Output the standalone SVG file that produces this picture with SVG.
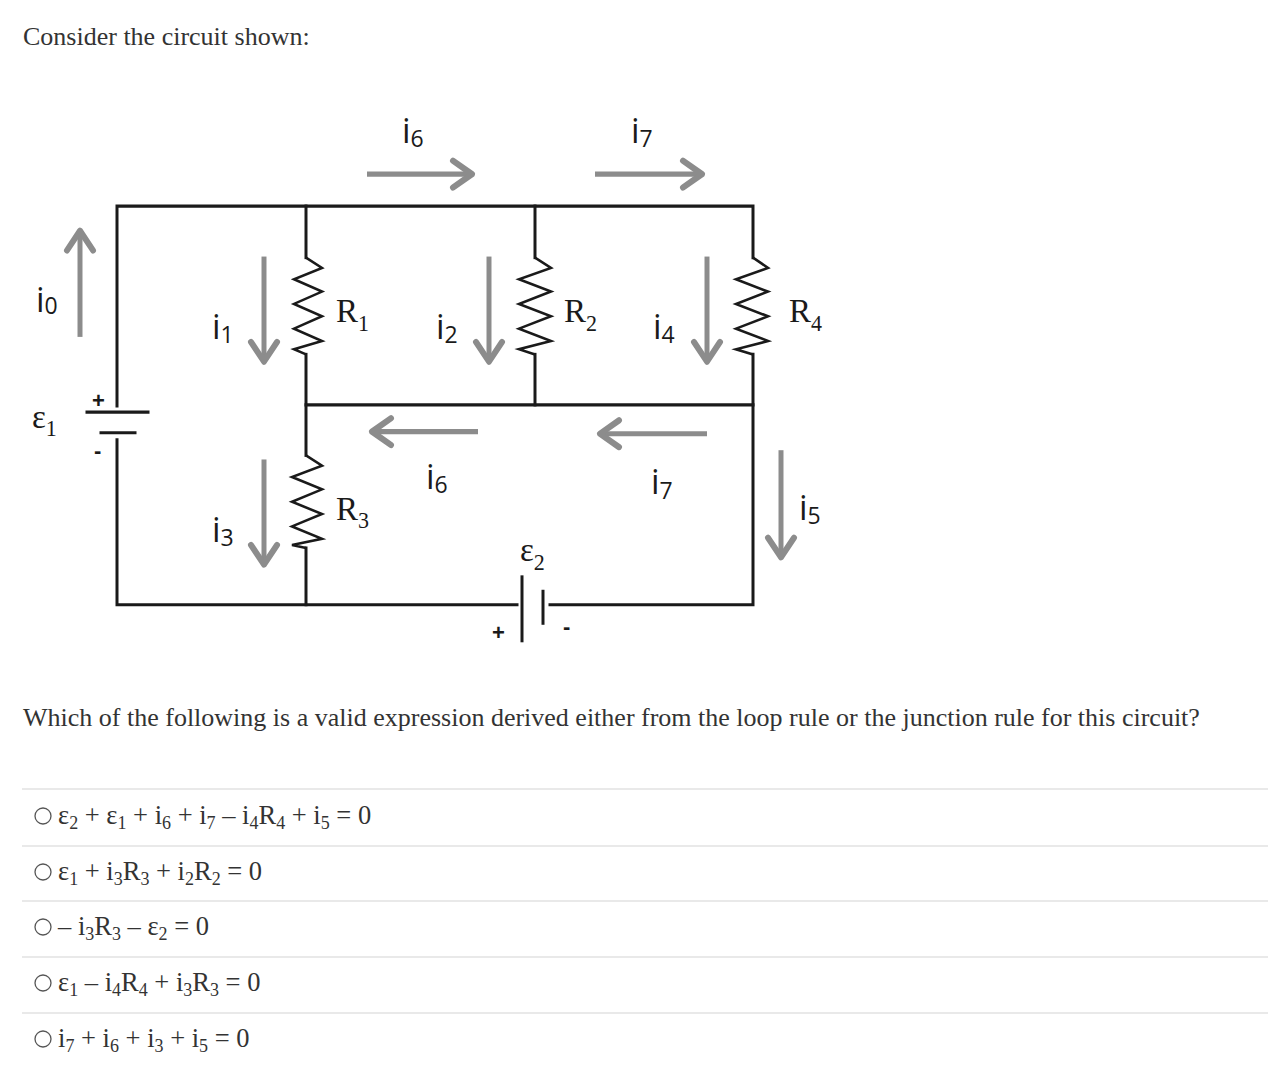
<svg xmlns="http://www.w3.org/2000/svg" width="1268" height="1082" viewBox="0 0 1268 1082">
<style>
.w{stroke:#1a1a1a;stroke-width:3;fill:none;stroke-linecap:square}
.r{stroke:#1a1a1a;stroke-width:2.5;fill:none;stroke-linejoin:miter}
.a{stroke:#8c8c8c;stroke-width:5;fill:none}
.h{stroke:#8c8c8c;stroke-width:6;fill:none;stroke-linecap:round;stroke-linejoin:round}
.lab{font-family:"Open Sans","DejaVu Sans",sans-serif;font-size:34px;fill:#1a1a1a}
.sub{font-size:23px}
.rl{font-family:"Liberation Serif",serif;font-size:33px;fill:#1a1a1a}
.rs{font-size:22px}
.pm{font-family:"Liberation Sans",sans-serif;font-size:22px;font-weight:bold;fill:#1a1a1a}
.q{font-family:"Liberation Serif",serif;font-size:26px;fill:#333}
.o{font-family:"Liberation Serif",serif;font-size:26.5px;fill:#333}
.sep{stroke:#e2e2e2;stroke-width:1.5}
.rad{fill:none;stroke:#555;stroke-width:1.3}
</style>
<rect width="1268" height="1082" fill="#fff"/>
<text class="q" x="23" y="45">Consider the circuit shown:</text>
<g transform="translate(0,100) scale(1,1.03) translate(0,-100)">
<g id="connectors">
<polyline class="w" points="117,397 117,203 753,203 753,253"/>
<polyline class="w" points="117,430 117,590 517,590"/>
<polyline class="w" points="550,590 753,590 753,347"/>
<line class="w" x1="306" y1="203" x2="306" y2="253"/>
<line class="w" x1="306" y1="347" x2="306" y2="445"/>
<line class="w" x1="306" y1="535" x2="306" y2="590"/>
<line class="w" x1="535" y1="203" x2="535" y2="253"/>
<line class="w" x1="535" y1="347" x2="535" y2="396"/>
<line class="w" x1="306" y1="396" x2="753" y2="396"/>
</g>
<g id="R1"><polyline class="r" points="306,253 322,263 294,274 322,286 294,298 322,310 294,322 322,334 294,342 306,347"/><text class="rl" x="336" y="316">R<tspan class="rs" dy="8">1</tspan></text></g>
<g id="R3"><polyline class="r" points="306,445 322,455 292,466 322,478 292,490 322,502 292,514 322,526 292,532 306,535"/><text class="rl" x="336" y="508">R<tspan class="rs" dy="8">3</tspan></text></g>
<g id="R2"><polyline class="r" points="535,253 551,263 519,274 551,286 519,298 551,310 519,322 551,334 519,342 535,347"/><text class="rl" x="564" y="316">R<tspan class="rs" dy="8">2</tspan></text></g>
<g id="R4"><polyline class="r" points="753,253 768,263 736,274 768,286 736,298 768,310 736,322 768,334 736,342 753,347"/><text class="rl" x="789" y="316">R<tspan class="rs" dy="8">4</tspan></text></g>
<g id="E1">
<line class="w" x1="87" y1="403" x2="148" y2="403"/>
<line class="w" x1="101" y1="423" x2="135" y2="423"/>
<text class="pm" x="92" y="399">+</text>
<text class="pm" x="94" y="448">-</text>
<text class="rl" x="32" y="418">ε<tspan class="rs" dy="8">1</tspan></text>
</g>
<g id="E2">
<line class="w" x1="522" y1="563" x2="522" y2="625"/>
<line class="w" x1="543" y1="577" x2="543" y2="608"/>
<text class="pm" x="492" y="624">+</text>
<text class="pm" x="563" y="618">-</text>
<text class="rl" x="520" y="548">ε<tspan class="rs" dy="8">2</tspan></text>
</g>
<g id="currents">
<line class="a" x1="80" y1="330" x2="80" y2="228"/><polyline class="h" points="67,246 80,227 93,246"/>
<text class="lab" x="36" y="306">i<tspan class="sub" dy="2">0</tspan></text>
<line class="a" x1="264" y1="252" x2="264" y2="352"/><polyline class="h" points="251,335 264,354 277,335"/>
<text class="lab" x="212" y="332">i<tspan class="sub" dy="4">1</tspan></text>
<line class="a" x1="264" y1="449" x2="264" y2="549"/><polyline class="h" points="251,532 264,551 277,532"/>
<text class="lab" x="212" y="529">i<tspan class="sub" dy="4">3</tspan></text>
<line class="a" x1="489" y1="252" x2="489" y2="352"/><polyline class="h" points="476,335 489,354 502,335"/>
<text class="lab" x="436" y="332">i<tspan class="sub" dy="4">2</tspan></text>
<line class="a" x1="707" y1="252" x2="707" y2="352"/><polyline class="h" points="694,335 707,354 720,335"/>
<text class="lab" x="653" y="332">i<tspan class="sub" dy="4">4</tspan></text>
<line class="a" x1="781" y1="440" x2="781" y2="542"/><polyline class="h" points="768,525 781,544 794,525"/>
<text class="lab" x="799" y="508">i<tspan class="sub" dy="4">5</tspan></text>
<line class="a" x1="367" y1="172" x2="472" y2="172"/><polyline class="h" points="453,159 472,172 453,185"/>
<text class="lab" x="402" y="142">i<tspan class="sub" dy="4">6</tspan></text>
<line class="a" x1="595" y1="172" x2="702" y2="172"/><polyline class="h" points="683,159 702,172 683,185"/>
<text class="lab" x="631" y="142">i<tspan class="sub" dy="4">7</tspan></text>
<line class="a" x1="372" y1="422" x2="478" y2="422"/><polyline class="h" points="391,409 372,422 391,435"/>
<text class="lab" x="426" y="478">i<tspan class="sub" dy="4">6</tspan></text>
<line class="a" x1="600" y1="424" x2="707" y2="424"/><polyline class="h" points="619,411 600,424 619,437"/>
<text class="lab" x="651" y="483">i<tspan class="sub" dy="4">7</tspan></text>
</g>
</g>
<text class="q" x="23" y="726">Which of the following is a valid expression derived either from the loop rule or the junction rule for this circuit?</text>
<g id="options">
<line class="sep" x1="22" y1="789" x2="1268" y2="789"/>
<line class="sep" x1="22" y1="846" x2="1268" y2="846"/>
<line class="sep" x1="22" y1="901" x2="1268" y2="901"/>
<line class="sep" x1="22" y1="957" x2="1268" y2="957"/>
<line class="sep" x1="22" y1="1013" x2="1268" y2="1013"/>
<circle class="rad" cx="43" cy="816" r="8"/>
<circle class="rad" cx="43" cy="872" r="8"/>
<circle class="rad" cx="43" cy="927" r="8"/>
<circle class="rad" cx="43" cy="983" r="8"/>
<circle class="rad" cx="43" cy="1039" r="8"/>
<text class="o" x="58" y="824">ε<tspan font-size="18" dy="5">2</tspan><tspan dy="-5"> + ε</tspan><tspan font-size="18" dy="5">1</tspan><tspan dy="-5"> + i</tspan><tspan font-size="18" dy="5">6</tspan><tspan dy="-5"> + i</tspan><tspan font-size="18" dy="5">7</tspan><tspan dy="-5"> – i</tspan><tspan font-size="18" dy="5">4</tspan><tspan dy="-5">R</tspan><tspan font-size="18" dy="5">4</tspan><tspan dy="-5"> + i</tspan><tspan font-size="18" dy="5">5</tspan><tspan dy="-5"> = 0</tspan></text>
<text class="o" x="58" y="880">ε<tspan font-size="18" dy="5">1</tspan><tspan dy="-5"> + i</tspan><tspan font-size="18" dy="5">3</tspan><tspan dy="-5">R</tspan><tspan font-size="18" dy="5">3</tspan><tspan dy="-5"> + i</tspan><tspan font-size="18" dy="5">2</tspan><tspan dy="-5">R</tspan><tspan font-size="18" dy="5">2</tspan><tspan dy="-5"> = 0</tspan></text>
<text class="o" x="58" y="935">– i<tspan font-size="18" dy="5">3</tspan><tspan dy="-5">R</tspan><tspan font-size="18" dy="5">3</tspan><tspan dy="-5"> – ε</tspan><tspan font-size="18" dy="5">2</tspan><tspan dy="-5"> = 0</tspan></text>
<text class="o" x="58" y="991">ε<tspan font-size="18" dy="5">1</tspan><tspan dy="-5"> – i</tspan><tspan font-size="18" dy="5">4</tspan><tspan dy="-5">R</tspan><tspan font-size="18" dy="5">4</tspan><tspan dy="-5"> + i</tspan><tspan font-size="18" dy="5">3</tspan><tspan dy="-5">R</tspan><tspan font-size="18" dy="5">3</tspan><tspan dy="-5"> = 0</tspan></text>
<text class="o" x="58" y="1047">i<tspan font-size="18" dy="5">7</tspan><tspan dy="-5"> + i</tspan><tspan font-size="18" dy="5">6</tspan><tspan dy="-5"> + i</tspan><tspan font-size="18" dy="5">3</tspan><tspan dy="-5"> + i</tspan><tspan font-size="18" dy="5">5</tspan><tspan dy="-5"> = 0</tspan></text>
</g>
</svg>
